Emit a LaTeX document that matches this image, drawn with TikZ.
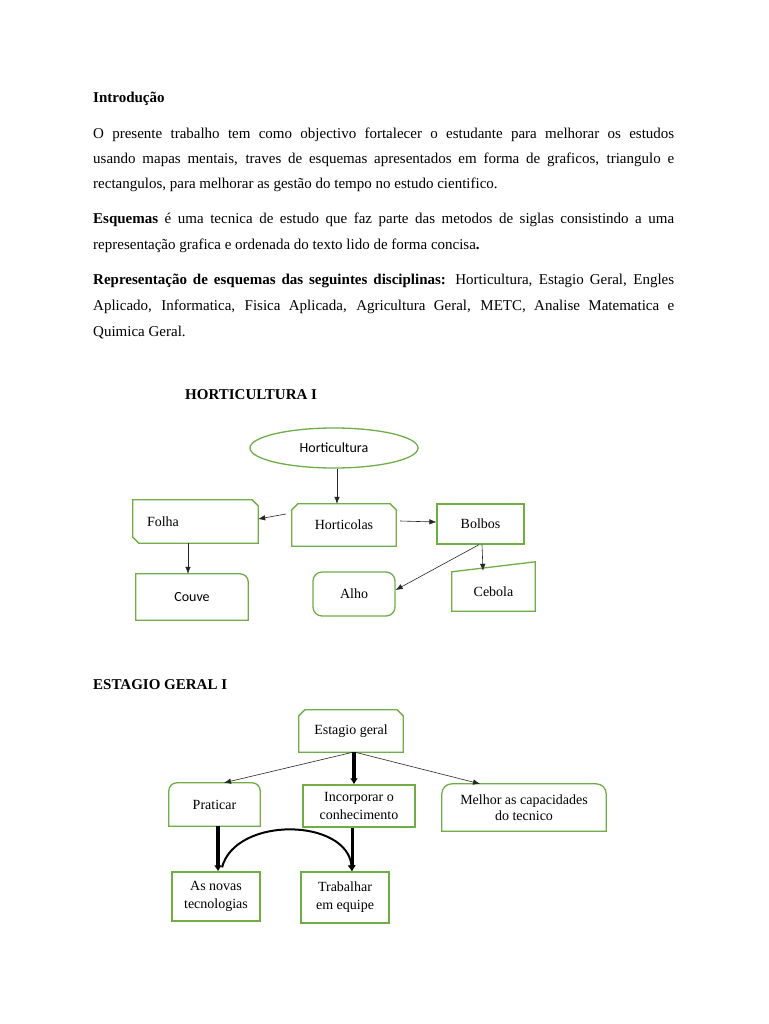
\documentclass[tikz,border=0pt]{standalone}
\usepackage{fontspec}
\setmainfont{Liberation Serif}
\newfontfamily\calibri{Carlito}
\usetikzlibrary{shapes.geometric,arrows.meta}
\definecolor{verde}{RGB}{112,173,71}
\tikzset{
	box/.style={draw=verde, line width=1.3pt},
	blk/.style={inner sep=0pt, align=center, font=\fontsize{14}{18}\selectfont},
	seta/.style={-{Latex[length=7pt,width=5.5pt]}, line width=0.6pt, black!85},
	grossa/.style={-{Latex[length=6pt,width=8pt]}},
	texto/.style={anchor=base west, inner sep=0pt, text width=581pt, align=justify, font=\fontsize{15}{25}\selectfont}
}
\begin{document}
\begin{tikzpicture}[x=1pt,y=1pt]
		\useasboundingbox[fill=white] (0,0) rectangle (768,-1024);
		\node (intro) [anchor=base west, inner sep=0pt, font=\fontsize{15}{18}\selectfont\bfseries] at (93,-103) {Introdução};
		\node (par1) [texto] at (93,-139) {O presente trabalho tem como objectivo fortalecer o estudante para melhorar os estudos\linebreak usando mapas mentais, traves de esquemas apresentados em forma de graficos, triangulo e\linebreak rectangulos, para melhorar as gestão do tempo no estudo cientifico.};
		\node (par2) [texto] at (93,-224) {\textbf{Esquemas} é uma tecnica de estudo que faz parte das metodos de siglas consistindo a uma\linebreak representação grafica e ordenada do texto lido de forma concisa\textbf{.}};
		\node (par3) [texto, font=\fontsize{15}{26}\selectfont] at (93,-284) {\textbf{Representação de esquemas das seguintes disciplinas:} Horticultura, Estagio Geral, Engles\linebreak Aplicado, Informatica, Fisica Aplicada, Agricultura Geral, METC, Analise Matematica e\linebreak Quimica Geral.};
		\node (tit1) [anchor=base west, inner sep=0pt, font=\fontsize{15}{18}\selectfont\bfseries] at (185,-399) {HORTICULTURA I};
		\node (tit2) [anchor=base west, inner sep=0pt, font=\fontsize{15}{18}\selectfont\bfseries] at (93,-689) {ESTAGIO GERAL I};
		
		\node (hort) [ellipse, box, minimum width=168pt, minimum height=40pt, inner sep=0pt, font=\calibri\fontsize{14}{16}\selectfont] at (334,-448) {Horticultura};
		\node (hcol) [blk, minimum width=104pt, minimum height=42pt] at (344,-525) {Horticolas};
		\draw[box] (hcol.south west) -- ([yshift=-6pt]hcol.north west) -- ([xshift=6pt]hcol.north west) -- ([xshift=-6pt]hcol.north east) -- ([yshift=-6pt]hcol.north east) -- (hcol.south east) -- cycle;
		\node (folha) [blk, minimum width=125pt, minimum height=43pt, text width=97pt, align=left] at (195.5,-521.5) {Folha};
		\draw[box] ([xshift=6pt]folha.south west) -- ([yshift=6pt]folha.south west) -- (folha.north west) -- ([xshift=-6pt]folha.north east) -- ([yshift=-6pt]folha.north east) -- (folha.south east) -- cycle;
		\node (couve) [blk, minimum width=112pt, minimum height=46pt, font=\calibri\fontsize{14}{16}\selectfont] at (192,-597) {Couve};
		\draw[box] (couve.south west) |- ([xshift=-8pt]couve.north east) arc[start angle=90, end angle=0, radius=8pt] -- (couve.south east) -- cycle;
		\node (alho) [blk, box, rounded corners=9pt, minimum width=82pt, minimum height=44pt] at (354,-594) {Alho};
		\node (bolbos) [blk, box, minimum width=87pt, minimum height=40pt] at (480.5,-524) {Bolbos};
		\node (cebola) [blk, minimum width=83pt, minimum height=39pt] at (493.5,-591.5) {Cebola};
		\draw[box] (cebola.south west) -- (cebola.north west) -- ([yshift=10pt]cebola.north east) -- (cebola.south east) -- cycle;
		
		\draw[seta] ([xshift=3pt]hort.south) -- ([xshift=-7pt]hcol.north);
		\draw[seta] ([xshift=-6pt,yshift=11pt]hcol.west) -- ([yshift=2.5pt]folha.east);
		\draw[seta] ([xshift=4pt,yshift=4pt]hcol.east) -- ([yshift=2pt]bolbos.west);
		\draw[seta] ([xshift=-7.5pt]folha.south) -- ([xshift=-4pt]couve.north);
		\draw[seta] ([xshift=-1.5pt]bolbos.south) -- ([yshift=4pt]alho.east);
		\draw[seta] ([xshift=1.5pt]bolbos.south) -- ([xshift=-10.5pt,yshift=1pt]cebola.north);
		
		\node (estagio) [blk, minimum width=104pt, minimum height=42pt] at (351,-731) {Estagio geral};
		\draw[box] (estagio.south west) -- ([yshift=-6pt]estagio.north west) -- ([xshift=6pt]estagio.north west) -- ([xshift=-6pt]estagio.north east) -- ([yshift=-6pt]estagio.north east) -- (estagio.south east) -- cycle;
		\node (prat) [blk, minimum width=91pt, minimum height=43pt] at (214.5,-804.5) {Praticar};
		\draw[box] (prat.south west) -- ([yshift=-8pt]prat.north west) arc[start angle=180, end angle=90, radius=8pt] -- ([xshift=-8pt]prat.north east) arc[start angle=90, end angle=0, radius=8pt] -- (prat.south east) -- cycle;
		\node (inc) [blk, box, minimum width=112pt, minimum height=42pt] at (359,-806) {Incorporar o\\conhecimento};
		\node (melhor) [blk, minimum width=164pt, minimum height=47pt, font=\fontsize{14}{16.5}\selectfont] at (524,-807.5) {Melhor as capacidades\\do tecnico};
		\draw[box] (melhor.south west) -- ([yshift=-10pt]melhor.north west) arc[start angle=180, end angle=90, radius=10pt] -- ([xshift=-10pt]melhor.north east) arc[start angle=90, end angle=0, radius=10pt] -- (melhor.south east) -- cycle;
		\node (novas) [blk, box, minimum width=88pt, minimum height=49pt] at (216,-896.5) {As novas\\tecnologias};
		\node (trab) [blk, box, minimum width=88pt, minimum height=51pt] at (345,-897.5) {Trabalhar\\em equipe};
		
		\draw[seta] ([xshift=2pt]estagio.south) -- ([xshift=9.5pt]prat.north);
		\draw[seta] ([xshift=4pt]estagio.south) -- ([xshift=-44pt]melhor.north);
		\draw[grossa, line width=3.5pt] ([xshift=3pt]estagio.south) -- ([xshift=-5pt]inc.north);
		\draw[grossa, line width=4.5pt] ([xshift=3.5pt]prat.south) -- ([xshift=2pt]novas.north);
		\draw[grossa, line width=3pt] ([xshift=-7pt]inc.south) -- ([xshift=7pt]trab.north);
		\draw[grossa, line width=2pt] ([xshift=6pt,yshift=4pt]novas.north) to[out=75, in=95, looseness=1.05] ([xshift=7pt]trab.north);
	\end{tikzpicture}
\end{document}
